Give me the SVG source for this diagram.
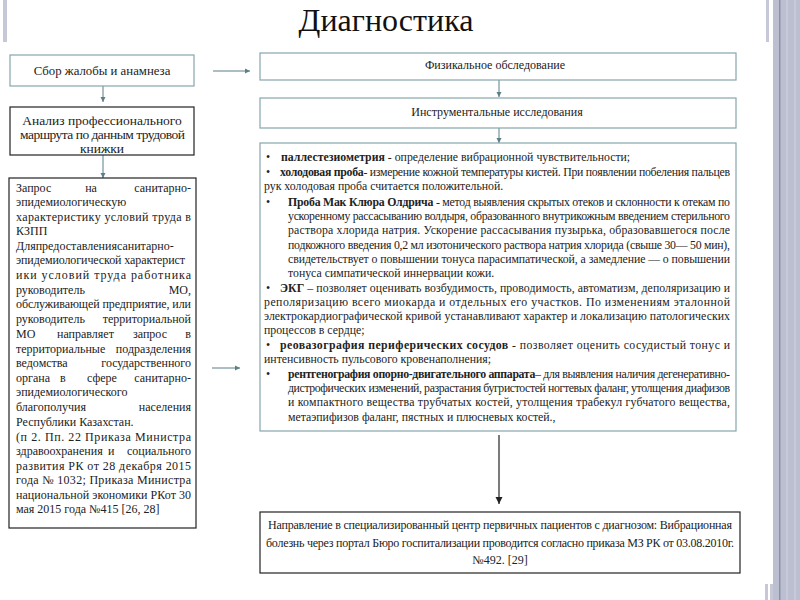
<svg xmlns="http://www.w3.org/2000/svg" width="800" height="600" viewBox="0 0 800 600">
<style>
text{font-family:"Liberation Serif","Times New Roman",serif;fill:#222}
.ttl{font-size:32px;fill:#111}
.t{font-size:12.8px}
.m{font-size:13.5px}
.s{font-size:12px}
.r{font-size:11.8px}
.b{font-weight:bold}
.e{text-anchor:end}
.c{text-anchor:middle}
.bx1{fill:#fff;stroke:#86a6ab;stroke-width:1.2}
.bx2{fill:#fff;stroke:#222;stroke-width:1.2}
.ar{stroke:#5b7f88;stroke-width:1;fill:none}
.ak{stroke:#222;stroke-width:1.2;fill:none}
</style>
<defs>
<marker id="ma" markerWidth="6" markerHeight="6" refX="5" refY="3" orient="auto" markerUnits="userSpaceOnUse"><path d="M0,0.5 L5,3 L0,5.5 z" fill="#5b7f88"/></marker>
<marker id="mk" markerWidth="8" markerHeight="8" refX="7" refY="4" orient="auto" markerUnits="userSpaceOnUse"><path d="M0,0.5 L7,4 L0,7.5 z" fill="#222"/></marker>
</defs>
<rect width="800" height="600" fill="#fff"/>
<rect x="3" y="0" width="4" height="42" fill="#c6c8d8"/>
<rect x="766" y="0" width="3" height="42" fill="#c6c8d8"/>
<rect x="773" y="0" width="27" height="600" fill="#bcbfd0"/>
<rect x="779" y="0" width="1.5" height="600" fill="#8e92aa"/>
<rect x="786" y="0" width="2" height="600" fill="#c8cad9"/>
<rect x="794" y="0" width="2" height="600" fill="#c8cad9"/>
<rect x="765" y="584" width="3" height="16" fill="#c6c8d8"/>
<rect x="770" y="584" width="3" height="16" fill="#c6c8d8"/>

<text class="ttl c" x="386" y="31">Диагностика</text>

<g id="connectors">
<line class="ar" x1="103" y1="86" x2="103" y2="102" marker-end="url(#ma)"/>
<line class="ar" x1="103" y1="155" x2="103" y2="178" marker-end="url(#ma)"/>
<line class="ar" x1="213" y1="71" x2="250" y2="71" marker-end="url(#ma)"/>
<line class="ar" x1="212" y1="368" x2="240" y2="368" marker-end="url(#ma)"/>
<line class="ar" x1="499" y1="80" x2="499" y2="97" marker-end="url(#ma)"/>
<line class="ar" x1="499" y1="128" x2="499" y2="143" marker-end="url(#ma)"/>
<line class="ak" x1="499" y1="435" x2="499" y2="504" marker-end="url(#mk)"/>
</g>

<g id="n1">
<rect class="bx1" x="10" y="55" width="184" height="31"/>
<text class="t c" x="102" y="75">Сбор жалобы и анамнеза</text>
</g>

<g id="n2">
<rect class="bx2" x="10" y="107" width="184" height="48"/>
<g class="m">
<text class="c" x="102" y="125">Анализ профессионального</text>
<text x="20" y="139" textLength="165" lengthAdjust="spacing">маршрута по данным трудовой</text>
<text class="c" x="102" y="153">книжки</text>
</g>
</g>

<g id="n3">
<rect class="bx2" x="9" y="178" width="187" height="350" stroke="#444"/>
<g class="s">
<text x="16" y="192">Запрос</text><text class="c" x="91" y="192">на</text><text class="e" x="191" y="192">санитарно-</text>
<text x="16" y="206">эпидемиологическую</text>
<text x="16" y="221" textLength="175" lengthAdjust="spacing">характеристику условий труда в</text>
<text x="16" y="235">КЗПП</text>
<text x="16" y="250">Дляпредоставлениясанитарно-</text>
<text x="16" y="264" textLength="169" lengthAdjust="spacing">эпидемиологической характерист</text>
<text x="16" y="279" textLength="175" lengthAdjust="spacing">ики условий труда работника</text>
<text x="16" y="294">руководитель</text><text class="e" x="191" y="294">МО,</text>
<text x="16" y="308" textLength="175" lengthAdjust="spacing">обслуживающей предприятие, или</text>
<text x="16" y="323">руководитель</text><text class="e" x="191" y="323">территориальной</text>
<text x="16" y="338">МО</text><text x="57" y="338">направляет</text><text x="133" y="338">запрос</text><text class="e" x="191" y="338">в</text>
<text x="16" y="353">территориальные</text><text class="e" x="191" y="353">подразделения</text>
<text x="16" y="367">ведомства</text><text class="e" x="191" y="367">государственного</text>
<text x="16" y="382">органа</text><text x="60" y="382">в</text><text x="87" y="382">сфере</text><text class="e" x="191" y="382">санитарно-</text>
<text x="16" y="396">эпидемиологического</text>
<text x="16" y="411">благополучия</text><text class="e" x="191" y="411">населения</text>
<text x="16" y="426">Республики Казахстан.</text>
<text x="16" y="441" textLength="175" lengthAdjust="spacing">(п 2. Пп. 22 Приказа Министра</text>
<text x="16" y="455">здравоохранения</text><text x="108" y="455">и</text><text class="e" x="191" y="455">социального</text>
<text x="16" y="470" textLength="175" lengthAdjust="spacing">развития РК от 28 декабря 2015</text>
<text x="16" y="484" textLength="175" lengthAdjust="spacing">года № 1032; Приказа Министра</text>
<text x="16" y="499" textLength="175" lengthAdjust="spacing">национальной экономики РКот 30</text>
<text x="16" y="513">мая 2015 года №415 [26, 28]</text>
</g>
</g>

<g id="nA">
<rect class="bx1" x="260" y="53" width="476" height="27"/>
<text class="s c" x="495" y="69">Физикальное обследование</text>
</g>

<g id="nB">
<rect class="bx1" x="260" y="98" width="476" height="30"/>
<text class="s c" x="497" y="116">Инструментальные исследования</text>
</g>

<g id="nC">
<rect class="bx1" x="260" y="143" width="476" height="288"/>
<g class="r">
<text x="266" y="161">•</text>
<text x="281" y="161"><tspan class="b">паллестезиометрия</tspan> - определение вибрационной чувствительности;</text>
<text x="266" y="176">•</text>
<text x="280" y="176" textLength="450" lengthAdjust="spacing"><tspan class="b">холодовая проба</tspan>- измерение кожной температуры кистей. При появлении побеления пальцев</text>
<text x="264" y="190">рук холодовая проба считается положительной.</text>
<text x="266" y="206">•</text>
<text x="288" y="206" textLength="442" lengthAdjust="spacing"><tspan class="b">Проба Мак Клюра Олдрича</tspan> - метод выявления скрытых отеков и склонности к отекам по</text>
<text x="288" y="220" textLength="442" lengthAdjust="spacing">ускоренному рассасыванию волдыря, образованного внутрикожным введением стерильного</text>
<text x="288" y="234" textLength="442" lengthAdjust="spacing">раствора хлорида натрия. Ускорение рассасывания пузырька, образовавшегося после</text>
<text x="288" y="249" textLength="442" lengthAdjust="spacing">подкожного введения 0,2 мл изотонического раствора натрия хлорида (свыше 30— 50 мин),</text>
<text x="288" y="263" textLength="442" lengthAdjust="spacing">свидетельствует о повышении тонуса парасимпатической, а замедление — о повышении</text>
<text x="288" y="277">тонуса симпатической иннервации кожи.</text>
<text x="266" y="292">•</text>
<text x="280" y="292" textLength="450" lengthAdjust="spacing"><tspan class="b">ЭКГ</tspan> – позволяет оценивать возбудимость, проводимость, автоматизм, деполяризацию и</text>
<text x="264" y="306" textLength="466" lengthAdjust="spacing">реполяризацию всего миокарда и отдельных его участков. По изменениям эталонной</text>
<text x="264" y="320" textLength="466" lengthAdjust="spacing">электрокардиографической кривой устанавливают характер и локализацию патологических</text>
<text x="264" y="334">процессов в сердце;</text>
<text x="266" y="349">•</text>
<text x="280" y="349" textLength="450" lengthAdjust="spacing"><tspan class="b">реовазография периферических сосудов</tspan> - позволяет оценить сосудистый тонус и</text>
<text x="264" y="363">интенсивность пульсового кровенаполнения;</text>
<text x="266" y="378">•</text>
<text x="288" y="378" textLength="442" lengthAdjust="spacing"><tspan class="b">рентгенография опорно-двигательного аппарата</tspan>– для выявления наличия дегенеративно-</text>
<text x="288" y="392" textLength="442" lengthAdjust="spacing">дистрофических изменений, разрастания бугристостей ногтевых фаланг, утолщения диафизов</text>
<text x="288" y="406" textLength="442" lengthAdjust="spacing">и компактного вещества трубчатых костей, утолщения трабекул губчатого вещества,</text>
<text x="288" y="421">метаэпифизов фаланг, пястных и плюсневых костей.,</text>
</g>
</g>

<g id="nD">
<rect class="bx2" x="260" y="512" width="480" height="61"/>
<g class="s">
<text x="268" y="529" textLength="464" lengthAdjust="spacing">Направление в специализированный центр первичных пациентов с диагнозом: Вибрационная</text>
<text x="266" y="547" textLength="468" lengthAdjust="spacing">болезнь через портал Бюро госпитализации проводится согласно приказа МЗ РК от 03.08.2010г.</text>
<text class="c" x="500" y="564">№492. [29]</text>
</g>
</g>
</svg>
